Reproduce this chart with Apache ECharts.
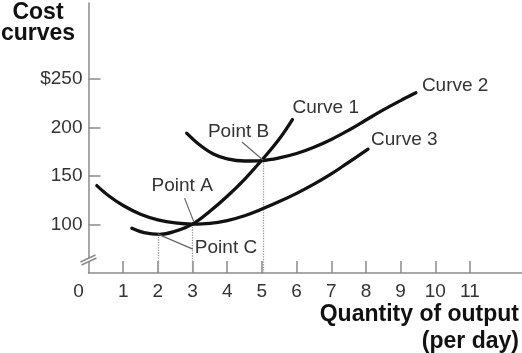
<!DOCTYPE html>
<html>
<head>
<meta charset="utf-8">
<script src="https://cdn.jsdelivr.net/npm/echarts@6/dist/echarts.min.js"></script>
<style>
html,body{margin:0;padding:0;background:#fff;}
#c{width:522px;height:353px;}
</style>
</head>
<body>
<div id="c"></div>
<script>
// ---- data ----
var xTickValues = [1,2,3,4,5,6,7,8,9,10,11];
var xLabelValues = [0,1,2,3,4,5,6,7,8,9,10,11];
var yTickValues = [100,150,200,250];
var curve1 = [[1.25,96],[1.6,91.5],[2.05,89.7],[2.5,93],[3,100.3],[3.5,113.5],[4,129],[4.5,146.5],[5,166.3],[5.5,188],[5.88,208]];
var curve2 = [[2.83,194],[3.2,182],[3.6,172.5],[4,167.5],[4.5,165.3],[5,165.8],[5.5,168.5],[6,173],[6.5,179.5],[7,187.5],[7.5,197],[8,207.5],[8.5,218],[9,227.5],[9.44,235.5]];
var curve3 = [[0.24,140],[0.6,129],[1,119.5],[1.5,110.5],[2,104.8],[2.5,101.5],[3,100.3],[3.5,101],[4,104],[4.5,109],[5,115.8],[5.5,123.5],[6,132],[6.5,141.5],[7,152],[7.5,164],[8.06,177.5]];
var curveNames = ['Curve 1','Curve 2','Curve 3'];
var pointNames = ['Point A','Point B','Point C'];
var pointA = [3,100.3];
var pointB = [5.03,166.3];
var pointC = [2,90];
var yMin = 50, yMax = 328, xMax = 12.5;

var chart = echarts.init(document.getElementById('c'));
var axisGray = '#8a8a8a';
var font = 'Liberation Sans, Arial, Helvetica, sans-serif';

function lineSeries(name, data, extra){
  var s = {
    name: name, type: 'line', data: data, smooth: 0.4, symbol: 'none',
    lineStyle: {color: '#111', width: 3.3, cap: 'round'}, z: 3, silent: true
  };
  for (var k in extra) s[k] = extra[k];
  return s;
}

chart.setOption({
  animation: false,
  grid: {left: 88.5, right: 0, top: 3, bottom: 80},
  xAxis: {
    type: 'value', min: 0, max: xMax,
    axisLine: {lineStyle: {color: axisGray, width: 1.5}},
    axisTick: {show: true, inside: true, length: 12, customValues: xTickValues, lineStyle: {color: axisGray, width: 1.5}},
    axisLabel: {
      customValues: xLabelValues, margin: 9, color: '#333', fontSize: 19, fontFamily: font,
      formatter: function(v){ return v === 0 ? '{z|0}' : String(v); },
      rich: {z: {fontSize: 19, fontFamily: font, color: '#333', padding: [0, 20, 0, 0]}}
    },
    splitLine: {show: false}
  },
  yAxis: {
    type: 'value', min: yMin, max: yMax,
    axisLine: {show: true, lineStyle: {color: axisGray, width: 1.5}},
    axisTick: {show: true, inside: true, length: 12, customValues: yTickValues, lineStyle: {color: axisGray, width: 1.5}},
    axisLabel: {
      customValues: yTickValues, margin: 6, color: '#333', fontSize: 19, fontFamily: font,
      formatter: function(v){ return v === 250 ? '$' + v : String(v); }
    },
    splitLine: {show: false}
  },
  series: [
    lineSeries(curveNames[0], curve1, {
      markLine: {
        silent: true, symbol: 'none', label: {show: false}, z: 1,
        lineStyle: {color: '#9a9a9a', type: 'dotted', width: 1.3},
        data: [
          [{coord: pointC}, {coord: [pointC[0], yMin]}],
          [{coord: pointA}, {coord: [pointA[0], yMin]}],
          [{coord: pointB}, {coord: [pointB[0], yMin]}]
        ]
      }
    }),
    lineSeries(curveNames[1], curve2, {}),
    lineSeries(curveNames[2], curve3, {})
  ]
});

function px(p){ return chart.convertToPixel({gridIndex: 0}, p); }
var graphics = [];
function txt(str, x, y, opts){
  var st = {text: str, x: x, y: y, fill: '#333', font: '19px ' + font, textAlign: 'left', textVerticalAlign: 'middle'};
  for (var k in opts) st[k] = opts[k];
  graphics.push({type: 'text', silent: true, z: 20, style: st});
}
function seg(x1, y1, x2, y2, color, w){
  graphics.push({type: 'line', silent: true, z: 15, shape: {x1: x1, y1: y1, x2: x2, y2: y2}, style: {stroke: color || '#666', lineWidth: w || 1.2}});
}

// point labels with leader lines
var pa = px(pointA), pb = px(pointB), pc = px(pointC);
txt(pointNames[0], pa[0] - 41, pa[1] - 38);
seg(pa[0] - 8, pa[1] - 26, pa[0] + 1, pa[1] - 3);
txt(pointNames[1], pb[0] - 55, pb[1] - 28);
seg(pb[0] - 21, pb[1] - 18, pb[0], pb[1]);
txt(pointNames[2], pc[0] + 37, pc[1] + 14);
seg(pc[0], pc[1], pc[0] + 35, pc[1] + 15);

// curve labels at curve ends
var e1 = px(curve1[curve1.length - 1]);
var e2 = px(curve2[curve2.length - 1]);
var e3 = px(curve3[curve3.length - 1]);
txt(curveNames[0], e1[0] + 0, e1[1] - 12);
txt(curveNames[1], e2[0] + 6, e2[1] - 7);
txt(curveNames[2], e3[0] + 3, e3[1] - 9);

// axis break mark on the y axis
var o = px([0, yMin]);
var bx = o[0], by = o[1] - 12;
graphics.push({type: 'polygon', silent: true, z: 14, shape: {points: [[bx - 7, by + 4], [bx + 7, by - 3], [bx + 7, by - 6], [bx - 7, by + 1]]}, style: {fill: '#fff'}});
seg(bx - 7, by + 4, bx + 8, by - 3, axisGray, 1.4);
seg(bx - 8, by + 1, bx + 7, by - 6, axisGray, 1.4);

// titles
graphics.push({type: 'text', silent: true, z: 20, style: {text: 'Cost\ncurves', x: 38, y: 2, fill: '#111', font: 'bold 23px ' + font, textAlign: 'center', textVerticalAlign: 'top', lineHeight: 21}});
graphics.push({type: 'text', silent: true, z: 20, style: {text: 'Quantity of output\n(per day)', x: 519, y: 301, fill: '#111', font: 'bold 23px ' + font, textAlign: 'right', textVerticalAlign: 'top', lineHeight: 27}});

chart.setOption({graphic: {elements: graphics}});
</script>
</body>
</html>
